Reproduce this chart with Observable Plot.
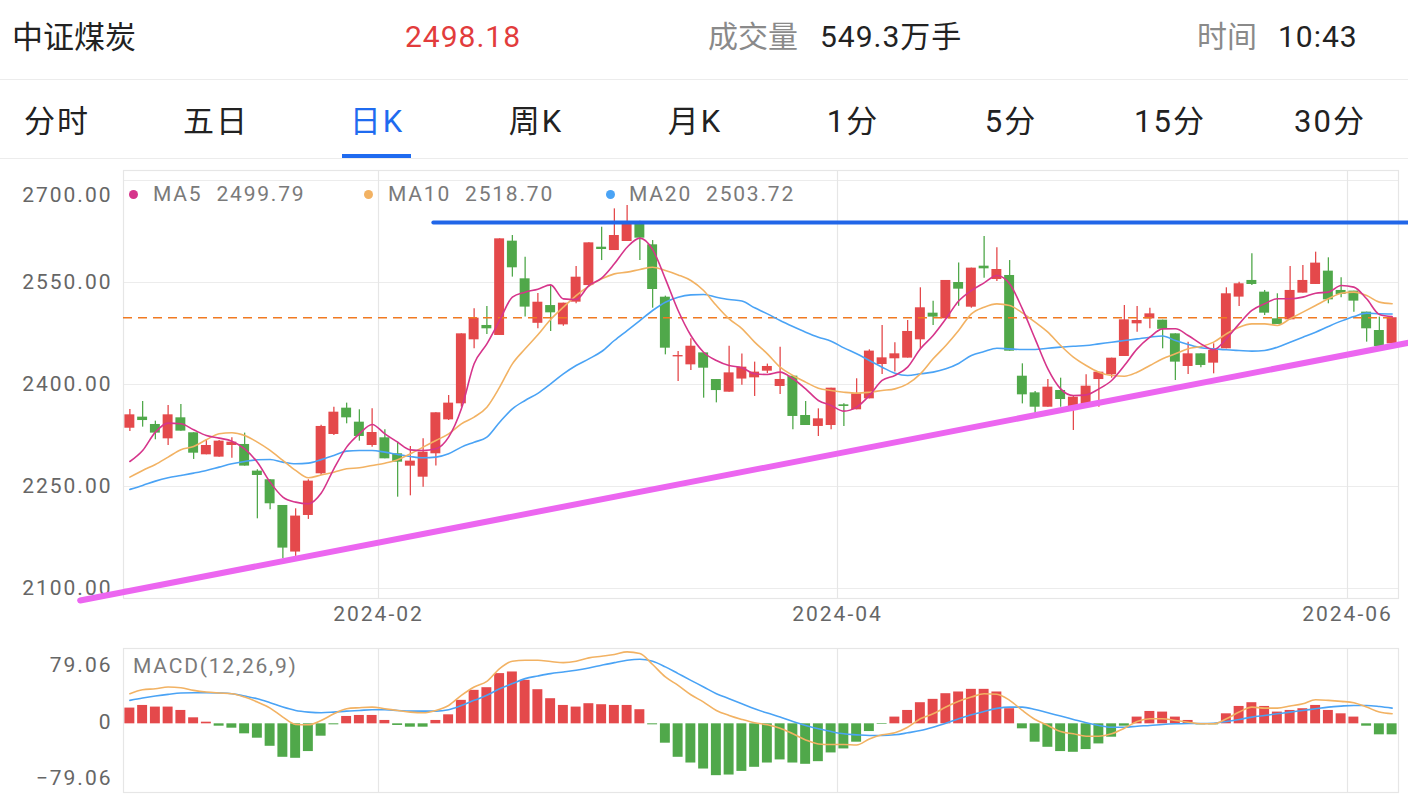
<!DOCTYPE html>
<html><head><meta charset="utf-8">
<script src="https://cdn.jsdelivr.net/npm/d3@7"></script>
<script src="https://cdn.jsdelivr.net/npm/@observablehq/plot@0.6"></script>
<style>
body{margin:0;background:#fff;font-family:Roboto,"Noto Sans CJK SC",sans-serif;}
#page{position:relative;width:1408px;height:800px;overflow:hidden;background:#fff;}
.abs{position:absolute;white-space:nowrap;line-height:1;}
.hdr{font-size:30px;top:22px;}
.tab{font-size:31px;top:106px;transform:translateX(-50%);color:#222;letter-spacing:2px;}
.sep{position:absolute;left:0;width:1408px;height:1px;background:#ececec;}
.leg{font-size:21px;color:#7a7a7a;top:184px;letter-spacing:1.8px;}
.dot{position:absolute;width:9px;height:9px;border-radius:50%;top:190px;}
#main{position:absolute;left:0;top:160px;}
#macd{position:absolute;left:0;top:640px;}
</style></head>
<body><div id="page">
<div class="abs hdr" style="left:12px;color:#222;font-size:31px;">中证煤炭</div>
<div class="abs hdr" style="left:405px;color:#e23c3c;letter-spacing:1px;">2498.18</div>
<div class="abs hdr" style="left:708px;color:#8a8a8a;">成交量</div>
<div class="abs hdr" style="left:820px;color:#222;letter-spacing:1px;">549.3万手</div>
<div class="abs hdr" style="left:1197px;color:#8a8a8a;">时间</div>
<div class="abs hdr" style="left:1278px;color:#222;letter-spacing:1px;">10:43</div>
<div class="sep" style="top:79px;"></div>
<div id="tabs"></div>
<div style="position:absolute;left:342px;top:154px;width:69px;height:4px;background:#1f6bf0;"></div>
<div class="sep" style="top:158px;"></div>
<div id="main"></div>
<div id="macd"></div>
<div class="dot" style="left:129px;background:#d6358b;"></div>
<div class="abs leg" style="left:153px;">MA5&nbsp;&nbsp;2499.79</div>
<div class="dot" style="left:364px;background:#f2b263;"></div>
<div class="abs leg" style="left:388px;">MA10&nbsp;&nbsp;2518.70</div>
<div class="dot" style="left:606px;background:#4aa3f5;"></div>
<div class="abs leg" style="left:629px;">MA20&nbsp;&nbsp;2503.72</div>
<div class="abs leg" style="left:133px;top:656px;">MACD(12,26,9)</div>
</div>
<script>
// ---------- data ----------
const tabs = ["分时","五日","日K","周K","月K","1分","5分","15分","30分"];
const tabCenters = [57,216,377,536,695,853,1011,1170,1330];
const activeTab = "日K";

const dates = [
"2024-01-04","2024-01-05","2024-01-08","2024-01-09","2024-01-10","2024-01-11","2024-01-12","2024-01-15","2024-01-16","2024-01-17",
"2024-01-18","2024-01-19","2024-01-22","2024-01-23","2024-01-24","2024-01-25","2024-01-26","2024-01-29","2024-01-30","2024-01-31",
"2024-02-01","2024-02-02","2024-02-05","2024-02-06","2024-02-07","2024-02-08","2024-02-19","2024-02-20","2024-02-21","2024-02-22",
"2024-02-23","2024-02-26","2024-02-27","2024-02-28","2024-02-29","2024-03-01","2024-03-04","2024-03-05","2024-03-06","2024-03-07",
"2024-03-08","2024-03-11","2024-03-12","2024-03-13","2024-03-14","2024-03-15","2024-03-18","2024-03-19","2024-03-20","2024-03-21",
"2024-03-22","2024-03-25","2024-03-26","2024-03-27","2024-03-28","2024-03-29","2024-04-01","2024-04-02","2024-04-03","2024-04-08",
"2024-04-09","2024-04-10","2024-04-11","2024-04-12","2024-04-15","2024-04-16","2024-04-17","2024-04-18","2024-04-19","2024-04-22",
"2024-04-23","2024-04-24","2024-04-25","2024-04-26","2024-04-29","2024-04-30","2024-05-06","2024-05-07","2024-05-08","2024-05-09",
"2024-05-10","2024-05-13","2024-05-14","2024-05-15","2024-05-16","2024-05-17","2024-05-20","2024-05-21","2024-05-22","2024-05-23",
"2024-05-24","2024-05-27","2024-05-28","2024-05-29","2024-05-30","2024-05-31","2024-06-03","2024-06-04","2024-06-05","2024-06-06"];

const openP = [2335.7,2352,2341.2,2320.1,2351,2329,2296.6,2293.2,2310.3,2311.8,
2272.6,2259.9,2222.1,2153.6,2207.4,2268.7,2326.5,2365.2,2344.6,2310.3,
2321.6,2298.1,2279.9,2263.7,2298.1,2348,2371.6,2465.7,2486.8,2472.1,
2610.8,2555.4,2490,2516.1,2487.7,2521.1,2545.5,2601.9,2597,2610.3,
2637.7,2605.4,2528.4,2440.6,2428.9,2446.5,2407.3,2388.7,2408,2409.8,
2419.6,2397.1,2412.3,2354.4,2338.3,2339.7,2370.1,2362.8,2378.9,2429.4,
2437.8,2438.8,2465.7,2504.9,2496.6,2550,2513.7,2574,2554.4,2560.3,
2412.2,2387.7,2366.6,2391.2,2361.7,2369.1,2407.3,2414.2,2441.2,2489.2,
2496.5,2494.6,2474.5,2426.5,2445.1,2431.4,2452.5,2528.5,2553,2535.8,
2496.6,2495.1,2534.4,2547.1,2566.7,2538.3,2537.3,2506.4,2479.4,2459.8];
const highP = [2363.2,2375,2346.1,2369.1,2370.6,2329,2318.7,2317.7,2321.6,2328.5,
2274.6,2259.9,2222.1,2217.2,2259.9,2340,2366.7,2372.6,2362.8,2364.2,
2333.4,2315.2,2308.8,2320.1,2358.4,2383.8,2474.5,2511.3,2514.7,2614.2,
2619.1,2587.3,2534,2545.5,2519.6,2573.5,2608.3,2631.3,2658.3,2663.2,
2640,2611.7,2529.9,2448.5,2467.1,2446.5,2407.3,2456.3,2445,2432.9,
2430,2454.9,2412.3,2375,2364.2,2394.6,2371.6,2408.4,2451,2486.8,
2461.3,2494.1,2542.2,2522.6,2553,2578.7,2571.1,2617.6,2601,2582.3,
2430.4,2389.7,2407.3,2409.3,2383.8,2414.2,2418.1,2438.7,2516.2,2514.7,
2512.2,2494.6,2474.5,2462.3,2445.1,2459.8,2542.2,2550.5,2592.2,2538.3,
2533.4,2573.6,2575,2594.6,2586.3,2556.9,2537.3,2506.4,2499.1,2498.18];
const lowP = [2330.9,2337.3,2318.7,2310.3,2331.4,2289.8,2296.6,2293.2,2291.7,2280,
2202.5,2215.8,2143.8,2147.2,2201.6,2266,2325,2342.2,2316.7,2307.9,
2290.7,2234.3,2236.3,2249,2280,2347.1,2366.7,2452.5,2473.5,2472.1,
2557.9,2499.1,2482,2477.9,2485.7,2518.6,2543.1,2582.3,2597,2610.3,
2582.3,2512.2,2443.6,2404.4,2420.5,2379.9,2373,2388.7,2399,2382.4,
2416,2385.3,2333.4,2339.7,2323.5,2333.4,2338.3,2362.8,2378.9,2414.7,
2418.2,2438.8,2451,2486.8,2496.6,2515,2512.2,2556.3,2551.4,2449,
2371.5,2356.8,2366.6,2366.6,2332.4,2366.6,2366.6,2409.3,2441.2,2477,
2481.8,2452.5,2405.9,2414.7,2424.6,2415.7,2452.5,2514.7,2545.6,2501.5,
2488.3,2495.1,2534.4,2547.1,2518.7,2527.5,2506.4,2462.3,2455.9,2459.8];
const closeP = [2355.4,2347,2328.5,2355.4,2331.4,2299,2310.3,2316.7,2315.2,2280,
2266.2,2224.6,2159.4,2206.5,2257.9,2338.3,2359.3,2351,2323.6,2329.4,
2290.7,2285.8,2287.3,2300.5,2358.4,2372.6,2474.5,2497.6,2481.9,2614.2,
2571.6,2513.8,2521,2505.4,2519.6,2557.8,2608.3,2598.5,2619.1,2638.7,
2615.2,2539.7,2453.4,2442.6,2456.3,2424,2391.1,2417.1,2425.5,2418.2,
2426.5,2407.4,2353,2339.7,2349.5,2394.6,2367.7,2386.3,2449.1,2439.2,
2445.1,2478,2512.8,2499.1,2553,2540.2,2571.1,2570.1,2569.1,2449,
2384.8,2366.6,2396.1,2377.9,2381.4,2397.5,2418.1,2438.7,2495.1,2494.1,
2503.9,2481.1,2432.9,2445.1,2428,2450.1,2533.4,2548.1,2547.1,2504.9,
2488.3,2538.3,2553,2578.5,2524.5,2532.4,2522.6,2481.9,2455.9,2498.18];

const ma5 = [2286.8,2303,2330,2343.2,2342.2,2333.4,2325,2321.1,2316.7,2305.4,
2285.8,2256.4,2234.4,2227,2224.6,2240,2276,2307.9,2327.5,2341.2,
2327.5,2315.2,2303.9,2303,2305.4,2322.6,2364.2,2430.4,2459.8,2494.2,
2528.5,2535.8,2540.2,2546.5,2525.9,2525,2545.5,2556.3,2577.4,2601.9,
2615.2,2598.5,2555.3,2508.8,2472,2447.5,2435.3,2427.9,2424.8,2415.7,
2414.7,2418.2,2408.4,2393.6,2376.5,2369.2,2360.8,2366.7,2383.8,2405.9,
2413.3,2425.5,2452.5,2472.1,2496.6,2522.7,2538.2,2549.5,2560.3,2548,
2511.2,2467.1,2423,2393.6,2383.8,2384.8,2393.6,2405.9,2427.9,2452.4,
2469.6,2481.8,2481.9,2472.1,2459.8,2451,2467.2,2489.2,2508.9,2518.7,
2526,2526,2528.5,2534.3,2535.8,2545.6,2543.2,2526,2503,2499.79];
const ma10 = [2263.8,2273.6,2282.4,2293.2,2304,2308.9,2318.7,2327.5,2329,2325,
2315.2,2303,2288.3,2273.6,2262.8,2267,2271.1,2276,2277.5,2280.9,
2284.3,2289.2,2298.1,2307.9,2317.7,2327.5,2342.2,2352,2366.7,2396.1,
2430.4,2452.5,2473.2,2495.5,2513.7,2530.8,2544.6,2555.3,2562.7,2565.2,
2569.1,2572.5,2567.6,2561.2,2552.9,2538.2,2516.1,2496.5,2482.3,2462.3,
2445.1,2425.5,2413.3,2403.5,2394.6,2391.2,2388.7,2387.3,2388.7,2391.2,
2393.6,2401,2415.7,2437.8,2457.4,2479.4,2503.9,2513.7,2518.6,2516.2,
2505.4,2491.6,2476.9,2457.3,2440.2,2427.9,2418.1,2413.2,2412.2,2418.1,
2427.9,2437.8,2445.1,2452.5,2455.9,2462.3,2474.5,2484.3,2489.2,2489.2,
2486.8,2496.6,2506.4,2516.2,2526,2534.3,2535.8,2530.9,2521.1,2518.70];
const ma20 = [2245.7,2251.5,2257.9,2262.8,2266.2,2269.7,2273.6,2278.5,2283.4,2286.8,
2289.3,2289.8,2285.8,2283.4,2284.4,2289.5,2295.6,2302,2303,2303,
2300.5,2297.1,2294.1,2292.2,2293.2,2298.1,2307.9,2315.2,2322.6,2344.6,
2364.2,2376.5,2387,2400.9,2415.6,2427.9,2437.7,2448.5,2464.7,2479.4,
2494.1,2508.8,2521,2528.4,2531.8,2532.3,2528.4,2525,2522.8,2512.8,
2503.9,2494.1,2485.3,2477,2469.6,2463.7,2453.9,2445.1,2435.3,2425.5,
2416.7,2413.3,2415.7,2418.2,2423.1,2431,2442.6,2448.5,2453.4,2452.4,
2451.4,2451.4,2453.4,2454.9,2456.3,2457.3,2459.8,2462.2,2464.7,2467.1,
2469.6,2471.3,2464.7,2458.9,2454,2452.5,2451,2450,2449.1,2450,
2454.9,2462.3,2469.6,2477,2485.3,2493.2,2500,2504.9,2504,2503.72];

const dif = [33.1,37.5,38.6,40.5,39.7,36.8,34.9,33.9,33.1,29.4,
23.9,17.3,7.4,-0.7,-1.1,3.7,11,16.6,17.7,18.4,
16.6,14.7,12.9,12.1,14.7,20.2,31.3,40.5,46.7,60.7,
68.8,69.9,69.9,68.5,67.3,68.8,72.5,74.3,76.2,79.06,
77.3,65.2,51.5,42.3,32,23.9,14.7,9.2,4.8,1.1,
-1.1,-4.8,-11,-17.7,-22.1,-22.8,-22.8,-23.2,-16.6,-12.1,
-9.9,-3.7,5.5,11,18.4,24.7,29.4,33.1,32.5,25.8,
14.7,4.8,-1.8,-8.5,-11,-13.6,-13.6,-11,-4.8,2.6,
5.5,5.5,3.7,1.8,0,0,5.5,12.9,18.4,17.3,
17.3,19.5,22.1,26.5,25.8,24.7,23.2,18.4,12.9,11];
const dea = [25.8,28.3,30.5,32.4,33.9,34.2,34.2,33.9,33.1,30.5,
27.6,23.2,18.4,14.7,12.9,12.1,12.9,14,14.7,15.5,
15.5,14.7,14,14,14,15.5,20.2,25.8,31.3,38.6,
44.2,49.7,52.6,55.2,57,58.9,61.4,64.4,67.3,69.9,
71,68.8,62.6,55.2,47.8,40.5,33.1,27.6,22.1,16.6,
11.8,7.4,2.6,-1.8,-5.5,-8.5,-11,-12.1,-12.9,-12.9,
-12.1,-9.9,-7.4,-3.7,0.7,5.5,9.9,13.6,17,18.4,
18.4,15.8,12.1,8.5,4.8,1.1,-1.8,-3.7,-3.7,-2.6,
-1.8,-0.7,0,0.4,0.4,0.7,2.6,4.8,7.4,9.2,
11,12.9,14.7,16.6,18.4,19.5,20.2,20.2,19.1,17.3];
const macdHist = [17.3,20.2,18.4,18.4,14.7,6.6,1.8,-2.6,-4.8,-11,
-15.8,-24.7,-36.8,-37.9,-30.5,-13.6,-1.1,8.1,9.2,9.2,
3.7,-1.8,-3.7,-3.7,3.7,9.9,25.8,36.8,39.7,55.2,
57,47.8,37.5,27.6,20.2,18.4,22.1,21,20.2,20.2,
15.5,-1.1,-21.3,-36.8,-43.1,-49.7,-57,-56.3,-52.3,-47.8,
-43.1,-39.7,-43.1,-44.5,-41.6,-32,-27.6,-20.2,-8.5,-0.7,
7.4,14.7,23.2,26.9,33.1,35,37.9,37.9,35,16.6,
-5.5,-20.2,-25.8,-30.5,-31.3,-28.3,-22.1,-14.7,-2.6,7.4,
13.6,12.9,7.4,3.7,-1.1,-1.1,11,19.1,23.2,19.1,
12.9,14.7,16.6,20.2,14.7,11,7.4,-2.6,-12.1,-12.1];

const yTicks = [2100, 2250, 2400, 2550, 2700];
const monthLabels = ["2024-02", "2024-04", "2024-06"];
const lastPrice = 2498.18;
const macdScaleMax = 79.06;
// hand-drawn annotation lines (x in trading-day index units)
const resistanceLine = [{i: 23.8, v: 2638.2}, {i: 100.4, v: 2638.2}];
const supportLine = [{i: -3.9, v: 2082.4}, {i: 100.4, v: 2461.8}];

// ---------- build ----------
const tabBox = document.getElementById("tabs");
tabs.forEach((t, k) => {
  const el = document.createElement("div");
  el.className = "abs tab";
  el.style.left = tabCenters[k] + "px";
  if (t === activeTab) el.style.color = "#1f6bf0";
  el.textContent = t;
  tabBox.appendChild(el);
});

const rows = dates.map((d, i) => ({
  i, date: d, open: openP[i], high: highP[i], low: lowP[i], close: closeP[i],
  ma5: ma5[i], ma10: ma10[i], ma20: ma20[i], dif: dif[i], dea: dea[i], macd: macdHist[i]
}));
const RED = "#e4494b", GREEN = "#50a84a";
const candleColor = r => (r.close >= r.open ? RED : GREEN);
const months = monthLabels.map(l => ({label: l, pos: dates.findIndex(d => d.startsWith(l)) - 0.5}));
const xDomain = [-0.5, dates.length - 0.5];
const hw = 0.39;
const fmt2 = d3.format(".2f");
const style = {fontFamily: "Roboto, 'Noto Sans CJK SC', sans-serif", fontSize: "21px", color: "#666", background: "transparent", overflow: "visible", letterSpacing: "2px"};

const main = Plot.plot({
  width: 1408, height: 480,
  marginTop: 10, marginBottom: 42, marginLeft: 123, marginRight: 10,
  style,
  x: {domain: xDomain, axis: null},
  y: {domain: [2085.3, 2714.7], axis: null},
  marks: [
    Plot.ruleY(yTicks, {stroke: "#ececec", strokeWidth: 1.2}),
    Plot.ruleX(months, {x: "pos", stroke: "#e6e6e6", strokeWidth: 1.2}),
    Plot.frame({stroke: "#e6e6e6", strokeWidth: 1.2}),
    Plot.text(yTicks.slice(0, -1), {frameAnchor: "left", y: d => d, dx: -11, textAnchor: "end", text: fmt2}),
    Plot.text(yTicks.slice(-1), {frameAnchor: "left", y: d => d, dx: -11, dy: 15, textAnchor: "end", text: fmt2}),
    Plot.text(months, {x: "pos", frameAnchor: "bottom", dy: 22, text: "label"}),
    Plot.ruleX(rows, {x: "i", y1: "low", y2: "high", stroke: candleColor, strokeWidth: 1.3}),
    Plot.rect(rows, {x1: r => r.i - hw, x2: r => r.i + hw, y1: "open", y2: "close", fill: candleColor}),
    Plot.ruleY([lastPrice], {stroke: "#f07a22", strokeWidth: 1.5, strokeDasharray: "9,6"}),
    Plot.line(rows, {x: "i", y: "ma20", stroke: "#4aa3f5", strokeWidth: 1.6, curve: "monotone-x"}),
    Plot.line(rows, {x: "i", y: "ma10", stroke: "#f2b263", strokeWidth: 1.6, curve: "monotone-x"}),
    Plot.line(rows, {x: "i", y: "ma5", stroke: "#d6358b", strokeWidth: 1.6, curve: "monotone-x"}),
    Plot.line(resistanceLine, {x: "i", y: "v", stroke: "#2166e8", strokeWidth: 4}),
    Plot.line(supportLine, {x: "i", y: "v", stroke: "#ec66f0", strokeWidth: 6})
  ]
});
document.getElementById("main").appendChild(main);

const macd = Plot.plot({
  width: 1408, height: 160,
  marginTop: 8, marginBottom: 8, marginLeft: 123, marginRight: 10,
  style,
  x: {domain: xDomain, axis: null},
  y: {domain: [-75.5, 82.8], axis: null},
  marks: [
    Plot.ruleX(months, {x: "pos", stroke: "#e6e6e6", strokeWidth: 1.2}),
    Plot.frame({stroke: "#e6e6e6", strokeWidth: 1.2}),
    Plot.rect(rows, {x1: r => r.i - hw, x2: r => r.i + hw, y1: 0, y2: "macd", fill: r => (r.macd >= 0 ? RED : GREEN)}),
    Plot.line(rows, {x: "i", y: "dea", stroke: "#4aa3f5", strokeWidth: 1.6, curve: "monotone-x"}),
    Plot.line(rows, {x: "i", y: "dif", stroke: "#f2b263", strokeWidth: 1.6, curve: "monotone-x"}),
    Plot.text([macdScaleMax], {frameAnchor: "left", y: d => d, dx: -11, dy: 13, textAnchor: "end", text: fmt2}),
    Plot.text([0], {frameAnchor: "left", y: d => d, dx: -11, dy: -2, textAnchor: "end", text: d => String(d)}),
    Plot.text([-macdScaleMax], {frameAnchor: "left", y: d => d, dx: -11, dy: -17, textAnchor: "end", text: fmt2})
  ]
});
document.getElementById("macd").appendChild(macd);
</script>
</body></html>
